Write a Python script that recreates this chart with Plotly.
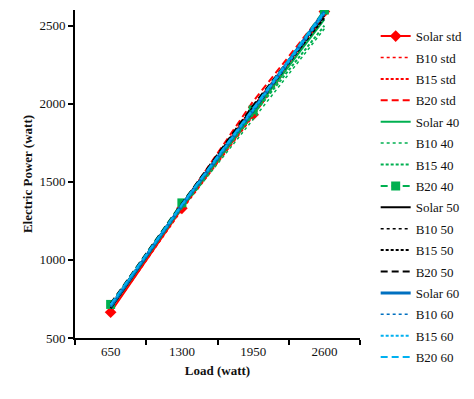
import plotly.graph_objects as go

loads = ["650", "1300", "1950", "2600"]
series_names = ["Solar std", "B10 std", "B15 std", "B20 std",
                "Solar 40", "B10 40", "B15 40", "B20 40",
                "Solar 50", "B10 50", "B15 50", "B20 50",
                "Solar 60", "B10 60", "B15 60", "B20 60"]
solar_std = [665, 1330, 1930, 2590]
b10_std = [670, 1320, 1920, 2560]
b15_std = [690, 1340, 1980, 2570]
b20_std = [700, 1350, 2015, 2590]
solar_40 = [690, 1340, 1940, 2540]
b10_40 = [700, 1330, 1900, 2480]
b15_40 = [710, 1345, 1930, 2500]
b20_40 = [715, 1365, 1960, 2600]
solar_50 = [690, 1350, 1960, 2580]
b10_50 = [700, 1345, 1950, 2560]
b15_50 = [710, 1355, 1980, 2550]
b20_50 = [720, 1360, 1990, 2570]
solar_60 = [700, 1350, 1960, 2590]
b10_60 = [700, 1340, 1950, 2570]
b15_60 = [710, 1350, 1960, 2580]
b20_60 = [715, 1355, 1970, 2590]

values = [solar_std, b10_std, b15_std, b20_std,
          solar_40, b10_40, b15_40, b20_40,
          solar_50, b10_50, b15_50, b20_50,
          solar_60, b10_60, b15_60, b20_60]

RED, GREEN, BLACK, BLUE, CYAN = "#FF0000", "#00B050", "#000000", "#0070C0", "#00B0F0"
colors = [RED]*4 + [GREEN]*4 + [BLACK]*4 + [BLUE, BLUE, CYAN, CYAN]
dashes = ["solid", "dot", "3px,2px", "7px,4px"] * 4
widths = [2, 1.5, 2, 2, 2, 1.5, 2, 2, 2, 1.5, 2, 2, 3, 1.5, 2, 2]
markers = {0: "diamond", 7: "square"}

fig = go.Figure()
for i, (name, vals) in enumerate(zip(series_names, values)):
    if i in markers:
        kw = dict(mode="lines+markers",
                  marker=dict(symbol=markers[i], size=9, color=colors[i]))
    else:
        kw = dict(mode="lines")
    fig.add_trace(go.Scatter(x=loads, y=vals, name=name, legendgroup=name,
                             line=dict(color=colors[i], dash=dashes[i], width=widths[i]),
                             **kw))

font = "Liberation Serif"
tf = dict(family=font, size=13, color="#111")
fig.update_layout(
    width=466, height=391,
    margin=dict(l=67, r=114, t=2, b=61),
    paper_bgcolor="white", plot_bgcolor="white",
    font=tf,
    showlegend=True,
    legend=dict(x=1.055, xanchor="left", y=0.966, yanchor="top",
                font=tf, tracegroupgap=1.5, itemwidth=30,
                bgcolor="rgba(0,0,0,0)", maxheight=1000),
    xaxis=dict(type="category", range=[-0.5, 3.5], tickson="boundaries",
               ticks="outside", ticklen=5, tickcolor="black", tickwidth=1.5,
               showline=True, linecolor="black", linewidth=2, showgrid=False,
               zeroline=False, tickfont=tf,
               title=dict(text="<b>Load (watt)</b>", font=tf, standoff=8)),
    yaxis=dict(range=[500, 2600], dtick=500, ticks="outside", ticklen=5,
               tickcolor="black", tickwidth=1.5,
               showline=True, linecolor="black", linewidth=2, showgrid=False,
               zeroline=False, tickfont=tf,
               title=dict(text="<b>Electric Power (watt)</b>", font=tf, standoff=4)),
)

fig.write_html("out.html")
